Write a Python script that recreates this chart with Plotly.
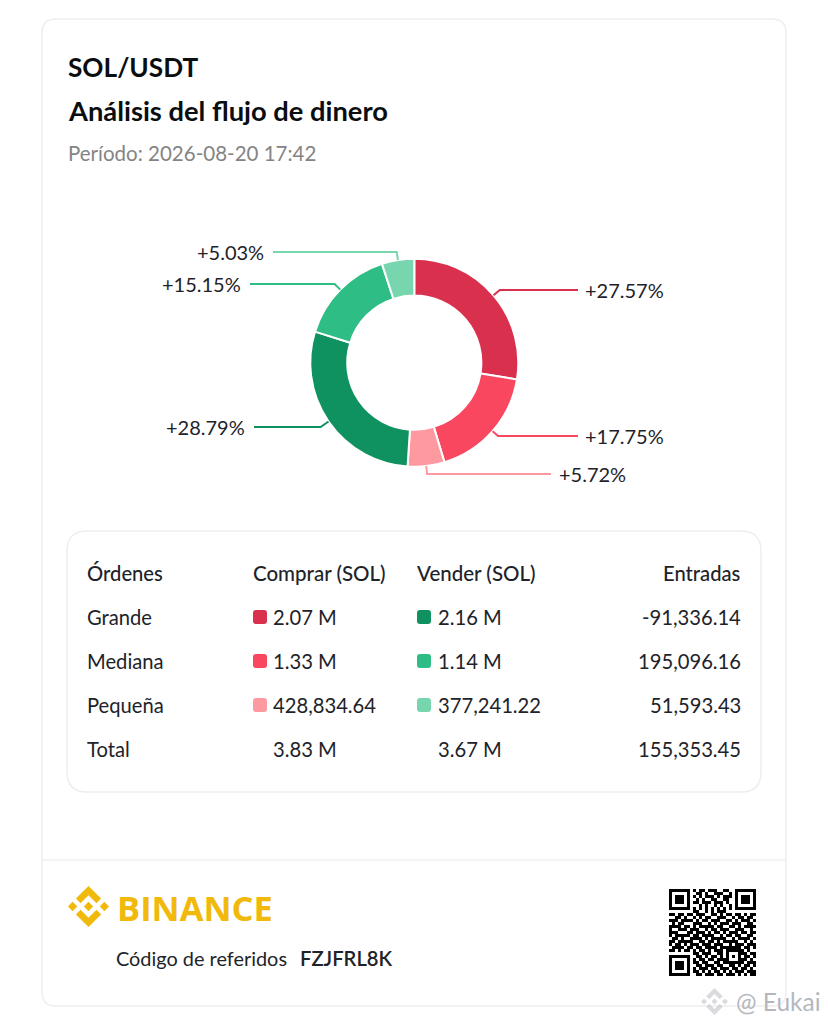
import math
import plotly.graph_objects as go

FONT = "Lato"
W, H = 828, 1025

# donut, clockwise from 12 o'clock
slice_pct = [27.57, 17.75, 5.72, 28.79, 15.15, 5.03]
slice_colors = ["#D9304E", "#F9475F", "#FF99A0", "#0F9160", "#2EBD85", "#78D6AF"]

# table
header = ["Órdenes", "Comprar (SOL)", "Vender (SOL)", "Entradas"]
orders = ["Grande", "Mediana", "Pequeña", "Total"]
buy = ["2.07 M", "1.33 M", "428,834.64", "3.83 M"]
sell = ["2.16 M", "1.14 M", "377,241.22", "3.67 M"]
inflow = ["-91,336.14", "195,096.16", "51,593.43", "155,353.45"]

buy_chips = ["#D9304E", "#F9475F", "#FF99A0"]
sell_chips = ["#0F9160", "#2EBD85", "#78D6AF"]

# qr modules, 29x29
qr = [
    "11111110101101110011001111111",
    "10000010011010011100101000001",
    "10111010101011101011101011101",
    "10111010010100110011001011101",
    "10111010110111011101001011101",
    "10000010001010010100101000001",
    "11111110101010101010101111111",
    "00000000110010101110000000000",
    "11011011011100110101101101011",
    "00110100101011001110010110110",
    "11101111010110111001101011101",
    "01011000111001010111011100110",
    "11110110101111101100110101111",
    "10011101110010110111001110010",
    "11100011011101011010111011011",
    "10111110110111100101101100110",
    "01101001111010111110010111101",
    "11011111001101101011111001010",
    "10110101110111011100101110111",
    "01111011011011110111111101101",
    "11010110101101011101111110100",
    "00000000110111001101000111011",
    "11111110011010110101010101101",
    "10000010101101101111000111010",
    "10111010110110011011111110111",
    "10111010011011101100110101101",
    "10111010101110110111011011010",
    "10000010110101011010101110111",
    "11111110011011101101110101011",
]

LOGO_PARTS = [
    [(38.73, 53.2), (63.3, 28.63), (87.89, 53.22), (102.19, 38.92), (63.3, 0), (24.43, 38.87)],
    [(38.73, 73.41), (63.3, 97.98), (87.89, 73.39), (102.2, 87.68), (63.3, 126.61), (24.42, 87.74)],
    [(0, 63.31), (14.3, 49.01), (28.6, 63.31), (14.3, 77.61)],
    [(98.01, 63.31), (112.31, 49), (126.61, 63.3), (112.31, 77.6)],
    [(77.83, 63.3), (63.3, 48.76), (48.78, 63.28), (63.3, 77.82)],
]


def round_rect(x0, y0, x1, y1, r):
    return (
        f"M{x0+r} {y0} L{x1-r} {y0} Q{x1} {y0} {x1} {y0+r} L{x1} {y1-r} Q{x1} {y1} {x1-r} {y1} "
        f"L{x0+r} {y1} Q{x0} {y1} {x0} {y1-r} L{x0} {y0+r} Q{x0} {y0} {x0+r} {y0} Z"
    )


def logo_shapes(x0, y0, size, color, opacity=1):
    k = size / 126.61
    out = []
    for part in LOGO_PARTS:
        d = "M" + " L".join(f"{x0 + px * k:.2f} {y0 + py * k:.2f}" for px, py in part) + " Z"
        out.append(dict(type="path", path=d, xref="x", yref="y", fillcolor=color,
                        line_width=0, opacity=opacity, layer="above"))
    return out


def label(x, y, text, size=20.2, color="#1E2329", anchor="left", weight=400, family=FONT):
    # annotations sit about 1px right of the anchor
    dx = -1.5 if anchor == "left" else 0.5
    return dict(x=x + dx, y=y, xref="x", yref="y", text=text, showarrow=False,
                xanchor=anchor, yanchor="middle", borderpad=0,
                font=dict(family=family, size=size, color=color, weight=weight))


shapes = [
    dict(type="path", path=round_rect(42, 19, 786, 1006, 14), xref="x", yref="y",
         line=dict(color="#EEEEEE", width=1.5), fillcolor="white", layer="below"),
    dict(type="path", path=round_rect(67, 531, 761, 792, 20), xref="x", yref="y",
         line=dict(color="#EEEEEE", width=1.5), fillcolor="white", layer="below"),
    dict(type="line", x0=42, x1=786, y0=860, y1=860, xref="x", yref="y",
         line=dict(color="#F0F0F0", width=1.5), layer="below"),
]
annotations = [
    label(68, 67, "SOL/USDT", 26.2, "#0B0E11", weight=700),
    label(68, 110, "Análisis del flujo de dinero", 27.3, "#0B0E11", weight=700),
    label(68, 153, "Período: 2026-08-20 17:42", 20.5, "#848484"),
]

# donut placement and leader lines
CX, CY, R = 414.3, 362.7, 104
lead_y = [290, 436, 474, 427, 284, 252]
lead_end = [578, 578, 551, 254, 250, 273]
text_x = [585, 585, 559, 245, 241, 264]
total = sum(slice_pct)
run = 0
for i, pct in enumerate(slice_pct):
    a = (run + pct / 2) / total * 2 * math.pi
    run += pct
    sx, sy = CX + R * math.sin(a), CY - R * math.cos(a)
    ex = CX + (lead_y[i] - CY) / (-math.cos(a)) * math.sin(a)
    shapes.append(dict(type="path", path=f"M{sx:.1f} {sy:.1f} L{ex:.1f} {lead_y[i]} L{lead_end[i]} {lead_y[i]}",
                       xref="x", yref="y", line=dict(color=slice_colors[i], width=2), layer="above"))
    side = "left" if lead_end[i] > CX else "right"
    annotations.append(label(text_x[i], lead_y[i], f"+{pct:.2f}%", size=20, anchor=side))

# table body
head_y = 573
row_y = [617, 661, 705, 749]
annotations += [
    label(87, head_y, header[0], weight=500),
    label(253, head_y, header[1], size=20.5, weight=500),
    label(417, head_y, header[2], size=20.5, weight=500),
    label(741, head_y, header[3], anchor="right", weight=500),
]
for i, y in enumerate(row_y):
    annotations += [
        label(87, y, orders[i]),
        label(273, y, buy[i]),
        label(438, y, sell[i]),
        label(741, y, inflow[i], anchor="right"),
    ]
    if i < len(buy_chips):
        for x, c in ((253, buy_chips[i]), (417, sell_chips[i])):
            shapes.append(dict(type="path", path=round_rect(x, y - 7, x + 14, y + 7, 3), xref="x", yref="y",
                               fillcolor=c, line_width=0, layer="above"))

# footer
shapes += logo_shapes(68, 886, 41, "#F0B90B")
shapes += logo_shapes(701, 988, 27, "#B9BDC4", 0.55)
annotations += [
    label(117, 907, "BINANCE", 34.5, "#F0B90B", weight=700, family="Open Sans"),
    label(116, 958, "Código de referidos", 19.9),
    label(300, 958, "FZJFRL8K", 20.2, weight=600),
    label(736, 1001, "@ Eukai", 24.5, "#B4B8BE"),
]

fig = go.Figure()
fig.add_trace(go.Heatmap(
    z=[[int(c) for c in row] for row in qr],
    x0=670.5, dx=3, y0=890.5, dy=3,
    colorscale=[[0, "#FFFFFF"], [1, "#000000"]],
    showscale=False, hoverinfo="skip",
))
fig.add_trace(go.Pie(
    values=slice_pct,
    sort=False, direction="clockwise", rotation=0, hole=0.645,
    marker=dict(colors=slice_colors, line=dict(color="white", width=2)),
    textinfo="none", showlegend=False, hoverinfo="skip",
    domain=dict(x=[(CX - R) / W, (CX + R) / W], y=[1 - (CY + R) / H, 1 - (CY - R) / H]),
))
fig.update_xaxes(range=[0, W], visible=False, fixedrange=True)
fig.update_yaxes(range=[H, 0], visible=False, fixedrange=True)
fig.update_layout(
    width=W, height=H,
    margin=dict(l=0, r=0, t=0, b=0),
    paper_bgcolor="white", plot_bgcolor="white",
    shapes=shapes, annotations=annotations,
)
fig.write_html("out.html", config={"displayModeBar": False},
               post_script="document.body.style.margin='0';document.body.style.overflow='hidden';")
